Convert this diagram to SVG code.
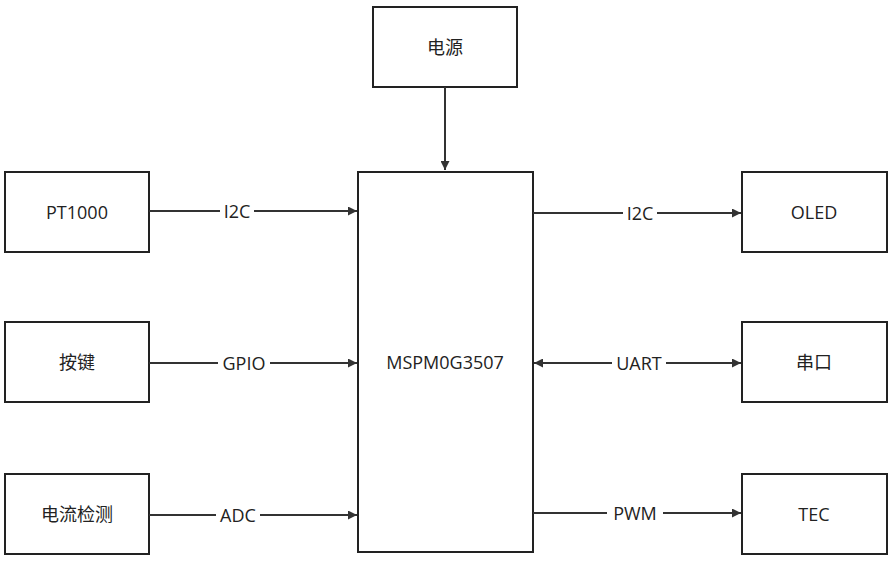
<svg xmlns="http://www.w3.org/2000/svg" width="891" height="563" viewBox="0 0 891 563">
<style>
.b{fill:#fff;stroke:#222;stroke-width:2}
.t{font-family:"Open Sans","Noto Sans CJK SC",sans-serif;font-size:18px;fill:#222;text-anchor:middle;dominant-baseline:central}
.c{stroke:#333;stroke-width:2;fill:none}
.l{font-family:"Open Sans","Noto Sans CJK SC",sans-serif;font-size:18px;fill:#222;text-anchor:middle;dominant-baseline:central}
.lb{fill:#fff}
</style>
<defs><marker id="a" viewBox="0 0 10 10" refX="10" refY="5" markerWidth="9" markerHeight="9" markerUnits="userSpaceOnUse" orient="auto-start-reverse"><path d="M0,0L10,5L0,10Z" fill="#333"/></marker></defs>
<rect width="891" height="563" fill="#fff"/>
<g id="power"><rect class="b" x="373" y="7" width="144" height="80"/><text class="t" x="445" y="47">电源</text></g>
<g id="pt1000"><rect class="b" x="5" y="172" width="144" height="80"/><text class="t" x="77" y="212">PT1000</text></g>
<g id="keys"><rect class="b" x="5" y="322" width="144" height="80"/><text class="t" x="77" y="362">按键</text></g>
<g id="current"><rect class="b" x="5" y="474" width="144" height="80"/><text class="t" x="77" y="514">电流检测</text></g>
<g id="mcu"><rect class="b" x="358" y="172" width="175" height="380"/><text class="t" x="445" y="362">MSPM0G3507</text></g>
<g id="oled"><rect class="b" x="742" y="172" width="145" height="80"/><text class="t" x="814" y="212">OLED</text></g>
<g id="uart"><rect class="b" x="742" y="322" width="145" height="80"/><text class="t" x="814" y="362">串口</text></g>
<g id="tec"><rect class="b" x="742" y="474" width="145" height="80"/><text class="t" x="814" y="514">TEC</text></g>
<g id="connectors">
<path class="c" d="M445,87V170" marker-end="url(#a)"/>
<path class="c" d="M149,211H357" marker-end="url(#a)"/>
<path class="c" d="M149,363H357" marker-end="url(#a)"/>
<path class="c" d="M149,515H357" marker-end="url(#a)"/>
<path class="c" d="M533,213H741" marker-end="url(#a)"/>
<path class="c" d="M534,363H741" marker-start="url(#a)" marker-end="url(#a)"/>
<path class="c" d="M533,513H741" marker-end="url(#a)"/>
<rect class="lb" x="220" y="200" width="34" height="22"/><text class="l" x="237" y="211">I2C</text>
<rect class="lb" x="218" y="352" width="52" height="22"/><text class="l" x="244" y="363">GPIO</text>
<rect class="lb" x="216" y="504" width="44" height="22"/><text class="l" x="238" y="515">ADC</text>
<rect class="lb" x="623" y="202" width="34" height="22"/><text class="l" x="640" y="213">I2C</text>
<rect class="lb" x="612" y="352" width="54" height="22"/><text class="l" x="639" y="363">UART</text>
<rect class="lb" x="607" y="502" width="56" height="22"/><text class="l" x="635" y="513">PWM</text>
</g>
</svg>
